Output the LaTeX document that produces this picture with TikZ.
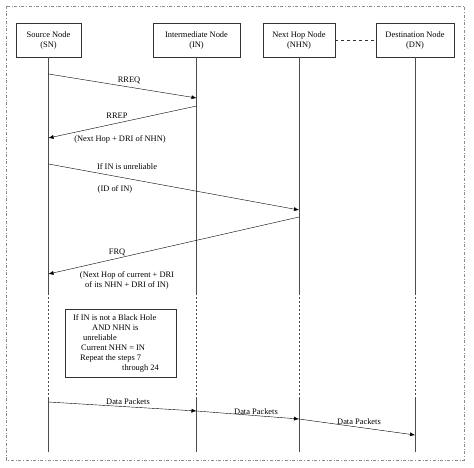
\documentclass[tikz,border=0pt]{standalone}
\usepackage{fontspec}
\setmainfont{Liberation Serif}
\usetikzlibrary{arrows.meta}

\begin{document}
\begin{tikzpicture}[x=1pt, y=-1pt, font=\fontsize{8.4}{10}\selectfont]
        \useasboundingbox (0,0) rectangle (474,468);
        \draw[black!45, dash dot, thin] (6,6) rectangle (464,460);

        % lifeline heads
        \begin{scope}[every node/.style={draw, black!80, text=black, thin, minimum height=34pt, align=center, inner sep=2pt}]
                \node [minimum width=65pt] (SN) at (48.5,40) {Source Node\\(SN)};
                \node [minimum width=87pt] (IN) at (196.5,40) {Intermediate Node\\(IN)};
                \node [minimum width=72pt] (NHN) at (299,40) {Next Hop Node\\(NHN)};
                \node [minimum width=78pt] (DN) at (415,40) {Destination Node\\(DN)};
        \end{scope}
        \draw[black!80, dashed] (NHN) -- (DN);

        % lifelines
        \foreach \n in {SN,IN,NHN,DN} {
                \coordinate (\n-a) at (\n.south |- 0,293);
                \coordinate (\n-b) at (\n.south |- 0,398);
                \coordinate (\n-c) at (\n.south |- 0,452);
                \draw[black!70, thin] (\n.south) -- (\n-a);
                \draw[black!70, thin, dash pattern=on 2pt off 2pt] (\n-a) -- (\n-b);
                \draw[black!70, thin] (\n-b) -- (\n-c);
        }

        % message ends
        \coordinate (m1s) at (SN.south |- 0,74);   \coordinate (m1e) at (IN.south |- 0,98);
        \coordinate (m2s) at (IN.south |- 0,106);  \coordinate (m2e) at (SN.south |- 0,138);
        \coordinate (m3s) at (SN.south |- 0,164);  \coordinate (m3e) at (NHN.south |- 0,210);
        \coordinate (m4s) at (NHN.south |- 0,217); \coordinate (m4e) at (SN.south |- 0,274);
        \coordinate (d1s) at (SN.south |- 0,402);  \coordinate (d1e) at (IN.south |- 0,411);
        \coordinate (d2e) at (NHN.south |- 0,419);
        \coordinate (d3e) at (DN.south |- 0,435);

        \begin{scope}[every path/.style={thin, -{Latex[length=5pt,width=4pt]}}]
                \path (m1s) edge (m1e);
                \path (m2s) edge (m2e);
                \path (m3s) edge (m3e);
                \path (m4s) edge (m4e);
                \path (d1s) edge (d1e);
                \path (d1e) edge (d2e);
                \path (d2e) edge (d3e);
        \end{scope}

        % labels
        \node (rreq) at (129,80) {RREQ};
        \node (rrep) at (117,116) {RREP};
        \node (rrepinfo) at (120,139) {(Next Hop + DRI of NHN)};
        \node (unrel) at (127,167) {If IN is unreliable};
        \node (idin) at (115,189) {(ID of IN)};
        \node (frq) at (117,252) {FRQ};
        \node[align=center] (frqinfo) at (127,280) {(Next Hop of current + DRI\\of its NHN + DRI of IN)};
        \node (dp1) at (128,402) {Data Packets};
        \node (dp2) at (256,412) {Data Packets};
        \node (dp3) at (359,422) {Data Packets};

        % condition box
        \node[draw, black!80, text=black, thin, minimum width=111pt, minimum height=68pt, inner sep=0pt] (cond) at (120.5,343) {};
        \node[anchor=north west, align=left, inner sep=0pt] (condtext) at (73,314)
                {If IN is not a Black Hole\\
                 \hspace*{19pt}AND NHN is\\
                 \hspace*{10pt}unreliable\\
                 \hspace*{8pt}Current NHN = IN\\
                 \hspace*{7pt}Repeat the steps 7\\
                 \hspace*{49pt}through 24};
\end{tikzpicture}
\end{document}
